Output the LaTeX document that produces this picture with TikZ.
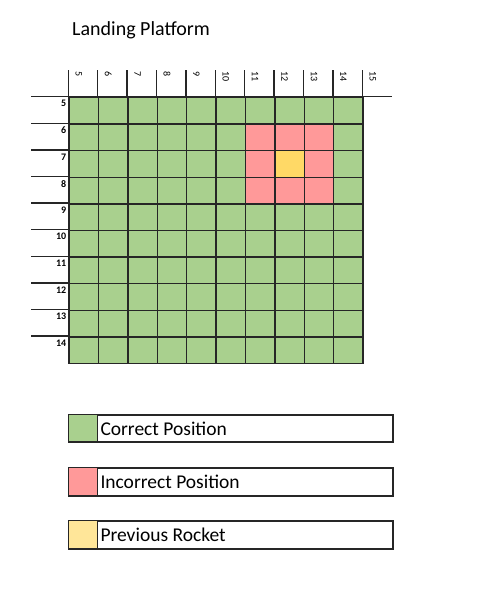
\documentclass[tikz,border=0pt]{standalone}
\usepackage{fontspec}
\setmainfont{Carlito}
\usetikzlibrary{positioning}
\definecolor{okgreen}{HTML}{A9D08E}
\definecolor{badpink}{HTML}{FF9999}
\definecolor{rocket}{HTML}{FFD966}
\definecolor{rocketlight}{HTML}{FFE699}

\begin{document}
\begin{tikzpicture}[x=1pt,y=-1pt,
        cell/.style={draw=black!85,line width=1.4pt,minimum width=29.4pt,minimum height=26.6pt,inner sep=0pt,anchor=north west},
        gridline/.style={draw=black!85,line width=1.4pt},
        collabel/.style={font=\fontsize{10}{10}\selectfont,rotate=-90,anchor=west,inner sep=0pt},
        rowlabel/.style={font=\fontsize{10}{10}\selectfont\bfseries,anchor=north east,inner sep=0pt},
        keybox/.style={draw=black!85,line width=1.4pt,minimum width=324pt,minimum height=27pt,inner sep=0pt,anchor=north west},
        keytext/.style={font=\fontsize{19.5}{20}\selectfont,anchor=west,inner sep=0pt}]
        \useasboundingbox (0,0) rectangle (479,613);
        \def\cw{29.4}
        \def\ch{26.6}
        \def\gx{68.3}
        \def\gy{96.7}

        \node[font=\fontsize{20}{20}\selectfont,anchor=base west,inner sep=0pt] (title) at (72,35.5) {Landing Platform};

        % header lines
        \draw[gridline] (33,\gy) -- (392,\gy);
        \foreach \i in {0,...,10} {
                \pgfmathtruncatemacro\n{\i+5}
                \draw[gridline] (\gx+\i*\cw,70) -- (\gx+\i*\cw,\gy);
                \node[collabel] (col-\n) at (\gx+\i*\cw+10.5,71) {\n};
            }
        \foreach \j in {0,...,9} {
                \pgfmathtruncatemacro\n{\j+5}
                \draw[gridline] (31,\gy+\j*\ch) -- (\gx,\gy+\j*\ch);
                \node[rowlabel] (row-\n) at (\gx-1.8,\gy+\j*\ch+3.5) {\n};
            }

        % landing cells
        \foreach \i in {0,...,9} {
                \foreach \j in {0,...,9} {
                        \def\col{okgreen}
                        \ifnum\i>5 \ifnum\i<9 \ifnum\j>0 \ifnum\j<4
                                            \def\col{badpink}
                                        \fi\fi\fi\fi
                        \ifnum\i=7 \ifnum\j=2
                                \def\col{rocket}
                            \fi\fi
                        \node[cell,fill=\col] (c-\i-\j) at (\gx+\i*\cw,\gy+\j*\ch) {};
                    }
            }

        % key
        \foreach \y\col\name\txt in {414.3/okgreen/correct/Correct Position,467.5/badpink/incorrect/Incorrect Position,520.7/rocketlight/previous/Previous Rocket} {
                \node[keybox] (key-\name) at (68.3,\y) {};
                \fill[\col] (key-\name.north west) rectangle ++(29.4,27);
                \draw[gridline] (key-\name.north west) ++(29.4,0) -- ++(0,27);
                \draw[gridline] (key-\name.north west) rectangle (key-\name.south east);
                \node[keytext] (txt-\name) at ([xshift=32pt]key-\name.west) {\txt};
            }

    \end{tikzpicture}
\end{document}
